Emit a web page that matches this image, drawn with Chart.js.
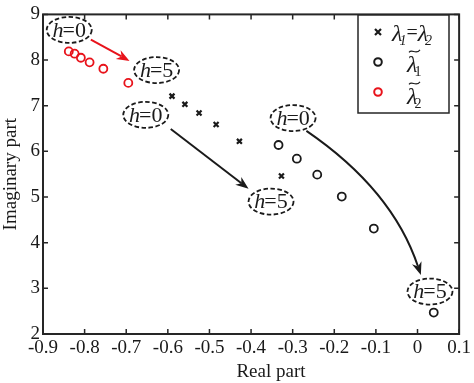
<!DOCTYPE html>
<html>
<head>
<meta charset="utf-8">
<script src="https://cdn.jsdelivr.net/npm/chart.js@4.4.1/dist/chart.umd.min.js"></script>
<style>
  html, body { margin: 0; padding: 0; background: #fff; }
  #wrap { width: 474px; height: 383px; }
</style>
</head>
<body>
<div id="wrap"><canvas id="myChart"></canvas></div>
<script>
// values
const xTicks = [-0.9, -0.8, -0.7, -0.6, -0.5, -0.4, -0.3, -0.2, -0.1, 0, 0.1];
const yTicks = [2, 3, 4, 5, 6, 7, 8, 9];

const crossRe = [-0.590, -0.559, -0.525, -0.484, -0.428, -0.327];
const crossIm = [7.21, 7.03, 6.84, 6.59, 6.22, 5.46];
const lam1Re = [-0.334, -0.290, -0.241, -0.182, -0.105, 0.039];
const lam1Im = [6.14, 5.84, 5.49, 5.01, 4.31, 2.47];
const lam2Re = [-0.838, -0.824, -0.809, -0.788, -0.755, -0.695];
const lam2Im = [8.19, 8.14, 8.05, 7.95, 7.81, 7.50];

// h labels (dashed ellipses), in data units
const hLabels = [
  { x: -0.837, y: 8.66, t: "0" },
  { x: -0.627, y: 7.78, t: "5" },
  { x: -0.653, y: 6.80, t: "0" },
  { x: -0.352, y: 4.90, t: "5" },
  { x: -0.299, y: 6.73, t: "0" },
  { x: 0.030, y: 2.93, t: "5" },
];

const RED = "#e8131b";
const INK = "#1a1a1a";
const SERIF = "'Liberation Serif', 'Times New Roman', serif";

const pts = (xs, ys) => xs.map((x, i) => ({ x: x, y: ys[i] }));

function arrowHead(c, x, y, ang, color) {
  const L = 13, W = 5;
  c.save();
  c.fillStyle = color;
  c.beginPath();
  c.moveTo(x, y);
  c.lineTo(x - L * Math.cos(ang) + W * Math.sin(ang), y - L * Math.sin(ang) - W * Math.cos(ang));
  c.lineTo(x - L * 0.7 * Math.cos(ang), y - L * 0.7 * Math.sin(ang));
  c.lineTo(x - L * Math.cos(ang) - W * Math.sin(ang), y - L * Math.sin(ang) + W * Math.cos(ang));
  c.closePath();
  c.fill();
  c.restore();
}

function lambda(c, x, y, sub, tilde, size, subItalic) {
  c.font = "italic " + size + "px " + SERIF;
  c.fillText("\u03bb", x, y);
  const w = c.measureText("\u03bb").width;
  if (tilde) {
    c.save();
    c.lineWidth = 1.1;
    c.beginPath();
    const tx = x + 2, ty = y - size * 0.86;
    c.moveTo(tx, ty + 1);
    c.bezierCurveTo(tx + 3, ty - 3, tx + 7, ty + 4, tx + 11, ty - 1.5);
    c.stroke();
    c.restore();
  }
  c.font = (subItalic ? "italic " : "") + Math.round(size * 0.6) + "px " + SERIF;
  c.fillText(sub, x + w - 3, y + 4);
  return x + w - 3 + c.measureText(sub).width;
}

const decor = {
  id: "decor",
  afterDraw(chart) {
    const c = chart.ctx;
    const a = chart.chartArea;
    const sx = chart.scales.x, sy = chart.scales.y;
    c.save();
    // box and inward ticks
    c.strokeStyle = "#262626";
    c.lineWidth = 2;
    c.strokeRect(a.left, a.top, a.right - a.left, a.bottom - a.top);
    c.lineWidth = 1.5;
    c.beginPath();
    xTicks.forEach((v) => {
      const p = sx.getPixelForValue(v);
      c.moveTo(p, a.bottom); c.lineTo(p, a.bottom - 5);
      c.moveTo(p, a.top); c.lineTo(p, a.top + 5);
    });
    yTicks.forEach((v) => {
      const p = sy.getPixelForValue(v);
      c.moveTo(a.left, p); c.lineTo(a.left + 5, p);
      c.moveTo(a.right, p); c.lineTo(a.right - 5, p);
    });
    c.stroke();

    // x axis title (sits right of centre in the original)
    c.fillStyle = INK;
    c.font = "19px " + SERIF;
    c.textAlign = "center";
    c.textBaseline = "alphabetic";
    c.fillText("Real part", 271, 377);
    c.textAlign = "left";

    // dashed ellipses with h=0 / h=5
    c.strokeStyle = INK;
    hLabels.forEach((h) => {
      const px = sx.getPixelForValue(h.x), py = sy.getPixelForValue(h.y);
      c.save();
      c.setLineDash([4.5, 2.5]);
      c.lineWidth = 1.8;
      c.beginPath();
      c.ellipse(px, py, 22.5, 13, 0, 0, Math.PI * 2);
      c.stroke();
      c.restore();
      c.font = "italic 22px " + SERIF;
      const w1 = c.measureText("h").width;
      c.font = "22px " + SERIF;
      const w2 = c.measureText("=" + h.t).width;
      const x0 = px - (w1 + w2 - 1) / 2;
      c.textBaseline = "middle";
      c.font = "italic 22px " + SERIF;
      c.fillText("h", x0, py + 1);
      c.font = "22px " + SERIF;
      c.fillText("=" + h.t, x0 + w1 - 1, py + 1);
    });

    // arrows
    const P = (x, y) => [sx.getPixelForValue(x), sy.getPixelForValue(y)];
    let s = P(-0.785, 8.45), e = P(-0.692, 7.98);
    c.strokeStyle = RED; c.lineWidth = 2;
    c.beginPath(); c.moveTo(s[0], s[1]); c.lineTo(e[0] - 8, e[1] - 4.5); c.stroke();
    arrowHead(c, e[0], e[1], Math.atan2(e[1] - s[1], e[0] - s[0]), RED);

    s = P(-0.593, 6.49); e = P(-0.406, 5.18);
    c.strokeStyle = INK;
    const ang = Math.atan2(e[1] - s[1], e[0] - s[0]);
    c.beginPath(); c.moveTo(s[0], s[1]); c.lineTo(e[0] - 9 * Math.cos(ang), e[1] - 9 * Math.sin(ang)); c.stroke();
    arrowHead(c, e[0], e[1], ang, INK);

    s = P(-0.267, 6.45); e = P(0.008, 3.29);
    const k = P(-0.06, 5.16);
    const ang2 = Math.atan2(e[1] - k[1], e[0] - k[0]);
    c.beginPath(); c.moveTo(s[0], s[1]);
    c.quadraticCurveTo(k[0], k[1], e[0] - 9 * Math.cos(ang2), e[1] - 9 * Math.sin(ang2));
    c.stroke();
    arrowHead(c, e[0], e[1], ang2, INK);

    // legend
    const lx = 358, ly = 15, lw = 91, lh = 98;
    c.fillStyle = "#fff";
    c.fillRect(lx, ly, lw, lh);
    c.strokeStyle = "#262626"; c.lineWidth = 1.5;
    c.strokeRect(lx, ly, lw, lh);
    const mx = 378;
    const rows = [32, 62, 92];
    c.lineWidth = 2.2;
    c.strokeStyle = INK;
    c.beginPath();
    c.moveTo(mx - 3, rows[0] - 3); c.lineTo(mx + 3, rows[0] + 3);
    c.moveTo(mx + 3, rows[0] - 3); c.lineTo(mx - 3, rows[0] + 3);
    c.stroke();
    c.lineWidth = 2;
    c.beginPath(); c.arc(mx, rows[1], 3.8, 0, Math.PI * 2); c.stroke();
    c.strokeStyle = RED;
    c.beginPath(); c.arc(mx, rows[2], 3.8, 0, Math.PI * 2); c.stroke();
    c.fillStyle = INK; c.strokeStyle = INK;
    c.textBaseline = "alphabetic";
    let tx = lambda(c, 392, 41, "1", false, 24, true);
    c.font = "20px " + SERIF;
    c.fillText("=", tx, 39);
    tx += c.measureText("=").width;
    lambda(c, tx, 41, "2", false, 24, true);
    lambda(c, 407, 72, "1", true, 24, false);
    lambda(c, 407, 104, "2", true, 24, false);
    c.restore();
  },
};

const tickFont = { family: SERIF, size: 19 };
const ctx = document.getElementById("myChart");
new Chart(ctx, {
  type: "scatter",
  data: {
    datasets: [
      {
        label: "lambda1=lambda2",
        data: pts(crossRe, crossIm),
        pointStyle: "crossRot",
        radius: 3.5,
        borderWidth: 2.2,
        borderColor: INK,
      },
      {
        label: "lambda1~",
        data: pts(lam1Re, lam1Im),
        pointStyle: "circle",
        radius: 4,
        borderWidth: 1.8,
        borderColor: INK,
        backgroundColor: "rgba(0,0,0,0)",
      },
      {
        label: "lambda2~",
        data: pts(lam2Re, lam2Im),
        pointStyle: "circle",
        radius: 4,
        borderWidth: 1.8,
        borderColor: RED,
        backgroundColor: "rgba(0,0,0,0)",
      },
    ],
  },
  options: {
    responsive: true,
    maintainAspectRatio: false,
    animation: false,
    layout: { autoPadding: false, padding: { top: 4, right: 12, left: 0, bottom: 0 } },
    plugins: { legend: { display: false }, tooltip: { enabled: false } },
    scales: {
      x: {
        type: "linear",
        min: -0.9,
        max: 0.1,
        afterBuildTicks: (s) => { s.ticks = xTicks.map((v) => ({ value: v })); },
        ticks: {
          font: tickFont,
          color: INK,
          padding: 3,
          maxRotation: 0,
          autoSkip: false,
          callback: (v) => String(Number(v.toFixed(1))),
        },
        grid: { drawOnChartArea: false, drawTicks: false },
        border: { display: false },
        title: { display: false },
        afterFit: (s) => { s.height = 49; },
      },
      y: {
        type: "linear",
        min: 2,
        max: 9,
        afterBuildTicks: (s) => { s.ticks = yTicks.map((v) => ({ value: v })); },
        ticks: { font: tickFont, color: INK, padding: 3 },
        grid: { drawOnChartArea: false, drawTicks: false },
        border: { display: false },
        title: { display: true, text: "Imaginary part", font: tickFont, color: INK, padding: { top: 0, bottom: 0 } },
        afterFit: (s) => { s.width = 43; },
      },
    },
  },
  plugins: [decor],
});
</script>
</body>
</html>
